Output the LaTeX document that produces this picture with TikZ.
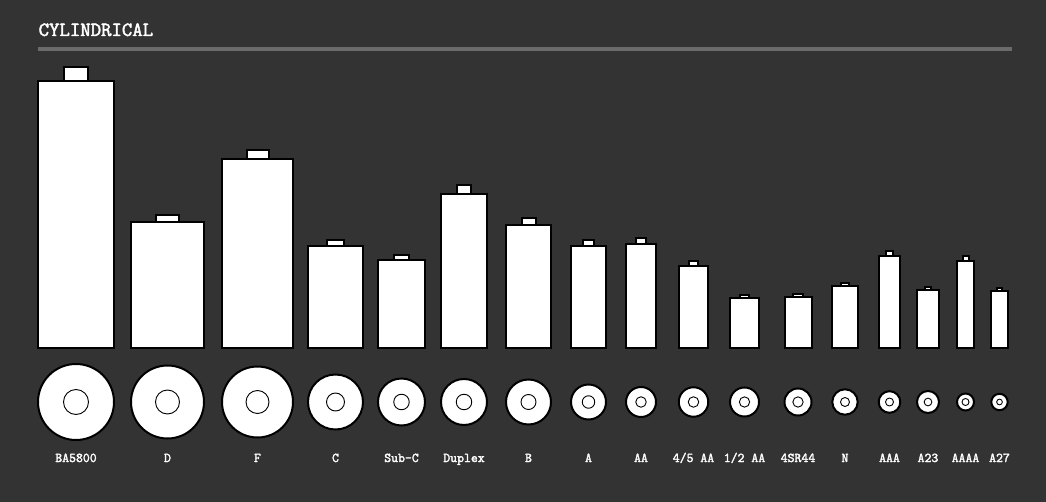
\documentclass[tikz,border=0pt]{standalone}
\usepackage{fontspec}
\setmonofont{Latin Modern Mono}[AutoFakeBold=2.2]
\usepackage{tikz}
\definecolor{board}{HTML}{333333}
\definecolor{rulegray}{HTML}{6B6B6B}

\begin{document}
\begin{tikzpicture}[x=1pt,y=-1pt]

\tikzset{cell/.style={draw=black,fill=white,line width=2pt,inner sep=0pt,outer sep=0pt,rectangle},
         disc/.style={draw=black,fill=white,line width=2pt,inner sep=0pt,circle},
         core/.style={draw=black,line width=0.9pt,inner sep=0pt,circle},
         tag/.style={text=white,font=\ttfamily\bfseries\fontsize{13.4}{15}\selectfont,inner sep=0pt}}
\fill[board] (0,0) rectangle (1046,502);
\useasboundingbox (0,0) rectangle (1046,502);

\node[tag,font=\ttfamily\bfseries\fontsize{20.2}{23}\selectfont,anchor=base west] (title) at (38.5,36) {CYLINDRICAL};
\coordinate (ruleL) at (38.3,49);
\coordinate (ruleR) at (1011.7,49);
\draw[rulegray,line width=4pt] (ruleL) -- (ruleR);

\foreach \cx/\w/\h/\tw/\th/\lbl [count=\i] in
    {76/78/269/26/14/BA5800,
     167.5/75/128/25/7/D,
     257.5/73/191/24/9/F,
     335.5/57/104/19/6/C,
     401.5/49/89.5/16.5/5/Sub-C,
     464/48/156/16.5/8.5/Duplex,
     528.5/47/125/16/7/B,
     588.5/37/104/13.5/6/A,
     641/32/106/11.5/5.5/AA,
     693.5/31.5/84/11.5/4.6/{4/5 AA},
     744.5/31/52/11.3/3.4/{1/2 AA},
     798/29/53/11.3/3.3/4SR44,
     845/27.4/64/10/3.3/N,
     889.5/23.6/94/9/5/AAA,
     928/24/60/8.7/3.3/A23,
     965.5/19/89/8/5.4/AAAA,
     999.5/18.4/59/6.7/3.4/A27}
{
    \node[cell,minimum width=\w-2,minimum height=\h-2,anchor=south] (body\i) at (\cx,348) {};
    \node[cell,minimum width=\tw-2,minimum height=\th,anchor=south] (term\i) at (body\i.north) {};
    \node[disc,minimum size=\w-2] (end\i) at (\cx,402) {};
    \node[core,minimum size=\tw-1] (pole\i) at (end\i.center) {};
    \node[tag,anchor=base] (name\i) at (\cx,462) {\lbl};
}
\end{tikzpicture}
\end{document}
